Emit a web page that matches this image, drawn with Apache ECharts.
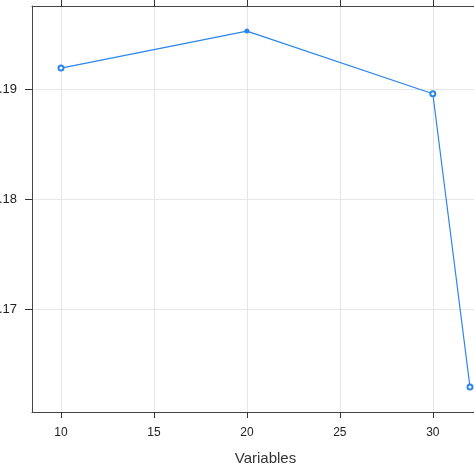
<!DOCTYPE html>
<html>
<head>
<meta charset="utf-8">
<script src="https://cdn.jsdelivr.net/npm/echarts@6/dist/echarts.min.js"></script>
<style>
  html, body { margin: 0; padding: 0; background: #fff; }
  #chart { width: 474px; height: 474px; }
</style>
</head>
<body>
<div id="chart"></div>
<script>
"use strict";

// number of variables vs. resampled score
const variables = [10, 20, 30, 32];
const scores = [0.19191, 0.19527, 0.18957, 0.16291];
const bestIndex = 1;

const xTicks = [10, 15, 20, 25, 30];
const yTicks = [0.17, 0.18, 0.19];

const lineColor = "#2a86e8";
const font = "Liberation Sans, Arial, sans-serif";

const chart = echarts.init(document.getElementById("chart"));

const points = variables.map((v, i) => {
  const p = { value: [v, scores[i]] };
  if (i === bestIndex) {
    p.symbol = "circle";
    p.itemStyle = { color: lineColor };
  }
  return p;
});

const option = {
  animation: false,
  grid: { left: 32, top: 6, right: -25, bottom: 62, containLabel: false, outerBoundsMode: "none" },
  xAxis: [
    {
      type: "value",
      position: "bottom",
      min: 8.44,
      max: 33.56,
      name: "Variables",
      nameLocation: "middle",
      nameGap: 39,
      nameTextStyle: { fontFamily: font, fontSize: 15, color: "#333" },
      axisLine: { show: true, lineStyle: { color: "#444", width: 1 } },
      axisTick: { show: true, length: 6, customValues: xTicks, lineStyle: { color: "#333" } },
      axisLabel: { customValues: xTicks, margin: 15, fontFamily: font, fontSize: 12, color: "#222" },
      splitLine: { show: true, lineStyle: { color: "#e6e6e6", width: 1 } }
    },
    {
      type: "value",
      position: "top",
      min: 8.44,
      max: 33.56,
      axisLine: { show: true, lineStyle: { color: "#444", width: 1 } },
      axisTick: { show: true, length: 6, customValues: xTicks, lineStyle: { color: "#333" } },
      axisLabel: { show: false },
      splitLine: { show: false }
    }
  ],
  yAxis: {
    type: "value",
    min: 0.16064,
    max: 0.19755,
    axisLine: { show: true, lineStyle: { color: "#444", width: 1 } },
    axisTick: { show: true, length: 7, customValues: yTicks, lineStyle: { color: "#333" } },
    axisLabel: {
      customValues: yTicks,
      margin: 15,
      fontFamily: font,
      fontSize: 13,
      color: "#222",
      formatter: v => v.toFixed(2)
    },
    splitLine: { show: true, lineStyle: { color: "#e6e6e6", width: 1 } }
  },
  series: [
    {
      type: "line",
      data: points,
      symbol: "emptyCircle",
      symbolSize: 5,
      lineStyle: { color: lineColor, width: 1.2 },
      itemStyle: { color: lineColor, borderWidth: 0.8 }
    }
  ]
};

chart.setOption(option);
</script>
</body>
</html>
